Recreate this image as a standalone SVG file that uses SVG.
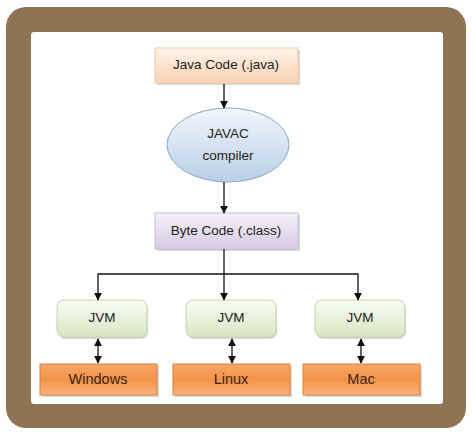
<svg xmlns="http://www.w3.org/2000/svg" width="474" height="437" viewBox="0 0 474 437">
<defs>
<linearGradient id="gJava" x1="0" y1="0" x2="0" y2="1"><stop offset="0" stop-color="#fef3ea"/><stop offset="1" stop-color="#fbd2b2"/></linearGradient>
<linearGradient id="gByte" x1="0" y1="0" x2="0" y2="1"><stop offset="0" stop-color="#f4f1f8"/><stop offset="1" stop-color="#d6cae3"/></linearGradient>
<linearGradient id="gJvm" x1="0" y1="0" x2="0" y2="1"><stop offset="0" stop-color="#fafcf6"/><stop offset="1" stop-color="#d8e6c2"/></linearGradient>
<linearGradient id="gOs" x1="0" y1="0" x2="0" y2="1"><stop offset="0" stop-color="#f7a868"/><stop offset="0.5" stop-color="#f4924a"/><stop offset="1" stop-color="#f9b27a"/></linearGradient>
<linearGradient id="gEll" x1="0" y1="0" x2="0" y2="1"><stop offset="0" stop-color="#f2f6fb"/><stop offset="1" stop-color="#b9cfe8"/></linearGradient>
<marker id="ah" viewBox="0 0 10 10" refX="9" refY="5" markerWidth="8" markerHeight="8" markerUnits="userSpaceOnUse" orient="auto-start-reverse"><path d="M0,0 L10,5 L0,10 z" fill="#111"/></marker>
</defs>
<style>
text{font-family:"Liberation Sans","DejaVu Sans",sans-serif;font-size:13.5px;fill:#222;text-anchor:middle;dominant-baseline:central}
.os{fill:#3a2410;font-size:14.5px}
.shadow{fill:#bbb;opacity:0.6}
.conn{stroke:#111;stroke-width:1.3;fill:none}
</style>
<rect x="6" y="7" width="460" height="421" rx="20" fill="#8f7454"/>
<rect x="31" y="32" width="412" height="372" rx="3" fill="#fff"/>
<g id="java">
<rect class="shadow" x="157" y="50" width="143" height="35"/>
<rect x="155" y="48" width="143" height="35" fill="url(#gJava)" stroke="#f5c8a4" stroke-width="1"/>
<text x="226" y="64">Java Code (.java)</text>
</g>
<g id="javac">
<ellipse cx="228" cy="145" rx="61" ry="37" fill="url(#gEll)" stroke="#8ba8cc" stroke-width="1"/>
<text x="228" y="133">JAVAC</text>
<text x="228" y="155">compiler</text>
</g>
<g id="byte">
<rect class="shadow" x="157" y="215" width="143" height="36"/>
<rect x="155" y="213" width="143" height="36" fill="url(#gByte)" stroke="#c9bcd9" stroke-width="1"/>
<text x="226" y="230">Byte Code (.class)</text>
</g>
<g id="jvm1">
<rect class="shadow" x="58" y="302" width="90" height="37" rx="7"/>
<rect x="57" y="300" width="90" height="37" rx="7" fill="url(#gJvm)" stroke="#c4d6a8" stroke-width="1"/>
<text x="102" y="317">JVM</text>
</g>
<g id="jvm2">
<rect class="shadow" x="187" y="302" width="90" height="37" rx="7"/>
<rect x="186" y="300" width="90" height="37" rx="7" fill="url(#gJvm)" stroke="#c4d6a8" stroke-width="1"/>
<text x="231" y="317">JVM</text>
</g>
<g id="jvm3">
<rect class="shadow" x="316" y="302" width="90" height="37" rx="7"/>
<rect x="315" y="300" width="90" height="37" rx="7" fill="url(#gJvm)" stroke="#c4d6a8" stroke-width="1"/>
<text x="360" y="317">JVM</text>
</g>
<g id="windows">
<rect class="shadow" x="42" y="366" width="117" height="31"/>
<rect x="40" y="364" width="117" height="31" fill="url(#gOs)" stroke="#e0803a" stroke-width="1"/>
<text class="os" x="98" y="379">Windows</text>
</g>
<g id="linux">
<rect class="shadow" x="175" y="366" width="117" height="31"/>
<rect x="173" y="364" width="117" height="31" fill="url(#gOs)" stroke="#e0803a" stroke-width="1"/>
<text class="os" x="231" y="379">Linux</text>
</g>
<g id="mac">
<rect class="shadow" x="305" y="366" width="117" height="31"/>
<rect x="303" y="364" width="117" height="31" fill="url(#gOs)" stroke="#e0803a" stroke-width="1"/>
<text class="os" x="361" y="379">Mac</text>
</g>
<g id="connectors">
<line class="conn" x1="224" y1="84" x2="224" y2="108" marker-end="url(#ah)"/>
<line class="conn" x1="224" y1="182" x2="224" y2="213" marker-end="url(#ah)"/>
<line class="conn" x1="224" y1="249" x2="224" y2="300" marker-end="url(#ah)"/>
<polyline class="conn" points="98,300 98,274 358,274 358,300" marker-start="url(#ah)" marker-end="url(#ah)"/>
<line class="conn" x1="98" y1="339" x2="98" y2="363" marker-start="url(#ah)" marker-end="url(#ah)"/>
<line class="conn" x1="232" y1="339" x2="232" y2="363" marker-start="url(#ah)" marker-end="url(#ah)"/>
<line class="conn" x1="361" y1="339" x2="361" y2="363" marker-start="url(#ah)" marker-end="url(#ah)"/>
</g>
</svg>
